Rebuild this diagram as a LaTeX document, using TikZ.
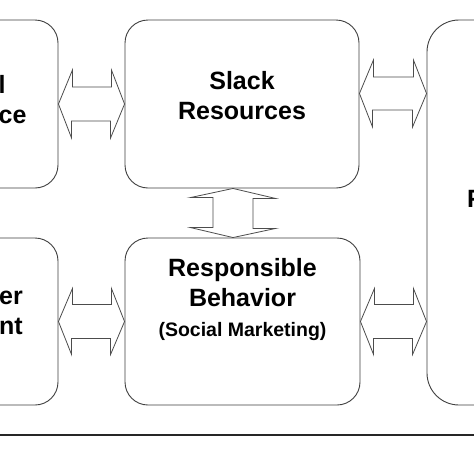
\documentclass[tikz,border=0pt]{standalone}
\usepackage{fontspec}
\setmainfont{Liberation Sans}
\usetikzlibrary{positioning,calc}

\begin{document}
\begin{tikzpicture}[
    x=1pt, y=-1pt,
    box/.style={rectangle, draw=black!75, line width=0.9pt, rounded corners=23pt},
    bigbox/.style={box, rounded corners=32pt},
    label_txt/.style={inner sep=0pt, align=center, font=\fontsize{25}{30}\selectfont\bfseries},
    blockarrow/.style={draw=black!70, line width=0.8pt, fill=white, line join=miter}
]
\useasboundingbox (0,0) rectangle (474,474);
\clip (0,0) rectangle (474,474);
\fill[white] (0,0) rectangle (474,474);

% Left top (cut off)
\node[box, minimum width=118pt, minimum height=168pt] (perf) at (-1,104) {};
\node[label_txt, align=left, anchor=north west] (perf_txt) at (-1.5,75) {l\\ce};

% Slack resources
\node[box, minimum width=234pt, minimum height=168pt] (slack) at (242,104) {};
\node[label_txt, below=52pt of slack.north] (slack_txt) {Slack\\Resources};

% Right (cut off)
\node[bigbox, minimum width=113pt, minimum height=385pt] (firm) at (483.5,212.5) {};
\node[label_txt, anchor=base west] (firm_txt) at (467,207) {F};

% Left bottom (cut off)
\node[box, minimum width=118pt, minimum height=167pt] (cust) at (-1,321.5) {};
\node[label_txt, align=left, anchor=north west] (cust_txt) at (-1,291) {er\\nt};

% Responsible behavior
\node[box, minimum width=235pt, minimum height=167pt] (resp) at (242.5,321.5) {};
\node[label_txt, below=21pt of resp.north] (resp_txt) {Responsible\\Behavior\\{\fontsize{19.5}{22}\selectfont (Social Marketing)}};

% Block arrows, top row
\draw[blockarrow] (perf.east) -- ++(14,-34) -- ++(0,17) -- ++(39,0) -- ++(0,-17) -- (slack.west)
    -- ++(-14,34) -- ++(0,-17) -- ++(-39,0) -- ++(0,17) -- cycle;
\draw[blockarrow] (slack.east |- 0,93.5) -- ++(14,-33.5) -- ++(0,17) -- ++(40,0) -- ++(0,-17) -- (firm.west |- 0,93.5)
    -- ++(-14,33.5) -- ++(0,-17) -- ++(-40,0) -- ++(0,17) -- cycle;

% Block arrows, bottom row
\draw[blockarrow] (cust.east) -- ++(14,-33) -- ++(0,16) -- ++(39,0) -- ++(0,-16) -- (resp.west)
    -- ++(-14,33) -- ++(0,-16) -- ++(-39,0) -- ++(0,16) -- cycle;
\draw[blockarrow] (resp.east) -- ++(14,-33) -- ++(0,16) -- ++(39,0) -- ++(0,-16) -- (firm.west |- resp.west)
    -- ++(-14,33) -- ++(0,-16) -- ++(-39,0) -- ++(0,16) -- cycle;

% Block arrow, slack <-> responsible
\draw[blockarrow] (233,0 |- slack.south) -- ++(42.5,10) -- ++(-22.5,0) -- ++(0,30) -- ++(22.5,0) -- (233,0 |- resp.north)
    -- ++(-42.5,-10) -- ++(22.5,0) -- ++(0,-30) -- ++(-22.5,0) -- cycle;

% Bottom rule
\coordinate (rule_l) at (0,435);
\coordinate (rule_r) at (474,435);
\draw[line width=1.5pt, black!85] (rule_l) -- (rule_r);

\end{tikzpicture}
\end{document}
